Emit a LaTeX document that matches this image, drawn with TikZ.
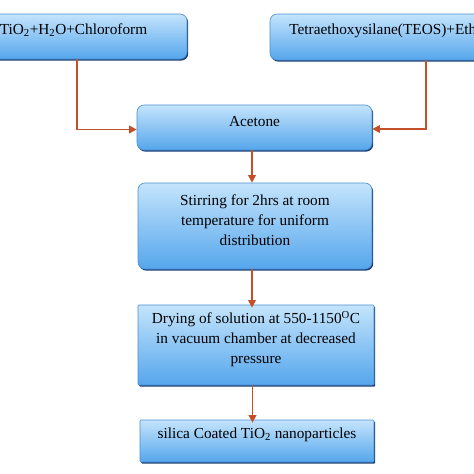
\documentclass[tikz,border=0pt]{standalone}
\usepackage{fontspec}
\setmainfont{Liberation Serif}
\usetikzlibrary{arrows.meta,shadows}

\definecolor{boxtop}{HTML}{C4E4FC}
\definecolor{boxbot}{HTML}{55A6EC}
\definecolor{boxline}{HTML}{4A90D0}
\definecolor{boxshade}{HTML}{1C3F78}
\definecolor{flowred}{HTML}{C4502A}

\tikzset{
  stepbox/.style={draw=boxline, line width=0.6pt, top color=boxtop, bottom color=boxbot,
    drop shadow={shadow xshift=1.2pt, shadow yshift=-1.6pt, fill=boxshade, opacity=1},
    inner sep=0pt},
  roundbox/.style={stepbox, rounded corners=7pt},
  flatbox/.style={stepbox, rounded corners=1pt},
  steptext/.style={font=\fontsize{15.3}{20}\selectfont, align=center, inner sep=0pt},
  flow/.style={draw=flowred, line width=1.8pt, -{Triangle[length=7.5pt,width=7.5pt]}}
}

\begin{document}
\begin{tikzpicture}[x=1pt,y=-1pt]
\fill[white] (0,0) rectangle (474,474);
\useasboundingbox (0,0) rectangle (474,474);
\clip (0,0) rectangle (474,474);
% Drawing the boxes
\node[roundbox, minimum width=227pt, minimum height=45pt] (mix) at (73.5,36.5) {};
\node[roundbox, minimum width=252pt, minimum height=46pt] (teos) at (396,37) {};
\node[roundbox, minimum width=235pt, minimum height=45pt] (acetone) at (254.5,127.5) {};
\node[roundbox, minimum width=234pt, minimum height=86pt] (stir) at (255,226) {};
\node[flatbox, minimum width=236pt, minimum height=80pt] (dry) at (256,345) {};
\node[flatbox, minimum width=234pt, minimum height=42pt] (coated) at (257,441) {};
% Done with boxes; drawing the texts
\node[steptext] (mixtext) at ([yshift=6pt]mix.center)
  {TiO\textsubscript{2}+H\textsubscript{2}O+Chloroform};
\node[steptext] (teostext) at ([yshift=6pt]teos.center)
  {Tetraethoxysilane(TEOS)+Ethanol};
\node[steptext] (acetonetext) at ([yshift=6pt]acetone.center) {Acetone};
\node[steptext] (stirtext) at ([yshift=6pt]stir.center)
  {Stirring for 2hrs at room\\temperature for uniform\\distribution};
\node[steptext] (drytext) at ([yshift=6pt]dry.center)
  {Drying of solution at 550-1150\textsuperscript{O}C\\in vacuum chamber at decreased\\pressure};
\node[steptext] (coatedtext) at ([yshift=6pt]coated.center)
  {silica Coated TiO\textsubscript{2} nanoparticles};
% Done with texts; drawing the connectors
\coordinate (mixdrop) at ([xshift=3.5pt]mix.south);
\coordinate (teosdrop) at ([xshift=30pt]teos.south);
\draw[flow] (mixdrop) |- ([yshift=-2pt]acetone.west);
\draw[flow] (teosdrop) |- ([yshift=-1.5pt]acetone.east);
\draw[flow] ([xshift=-2.5pt]acetone.south) -- ([xshift=-3pt]stir.north);
\draw[flow] ([xshift=-3pt]stir.south) -- ([xshift=-4pt,yshift=-3pt]dry.north);
\draw[flow] ([xshift=-3.5pt]dry.south) -- ([xshift=-4.5pt,yshift=-3pt]coated.north);
% Done with connectors
\end{tikzpicture}
\end{document}
